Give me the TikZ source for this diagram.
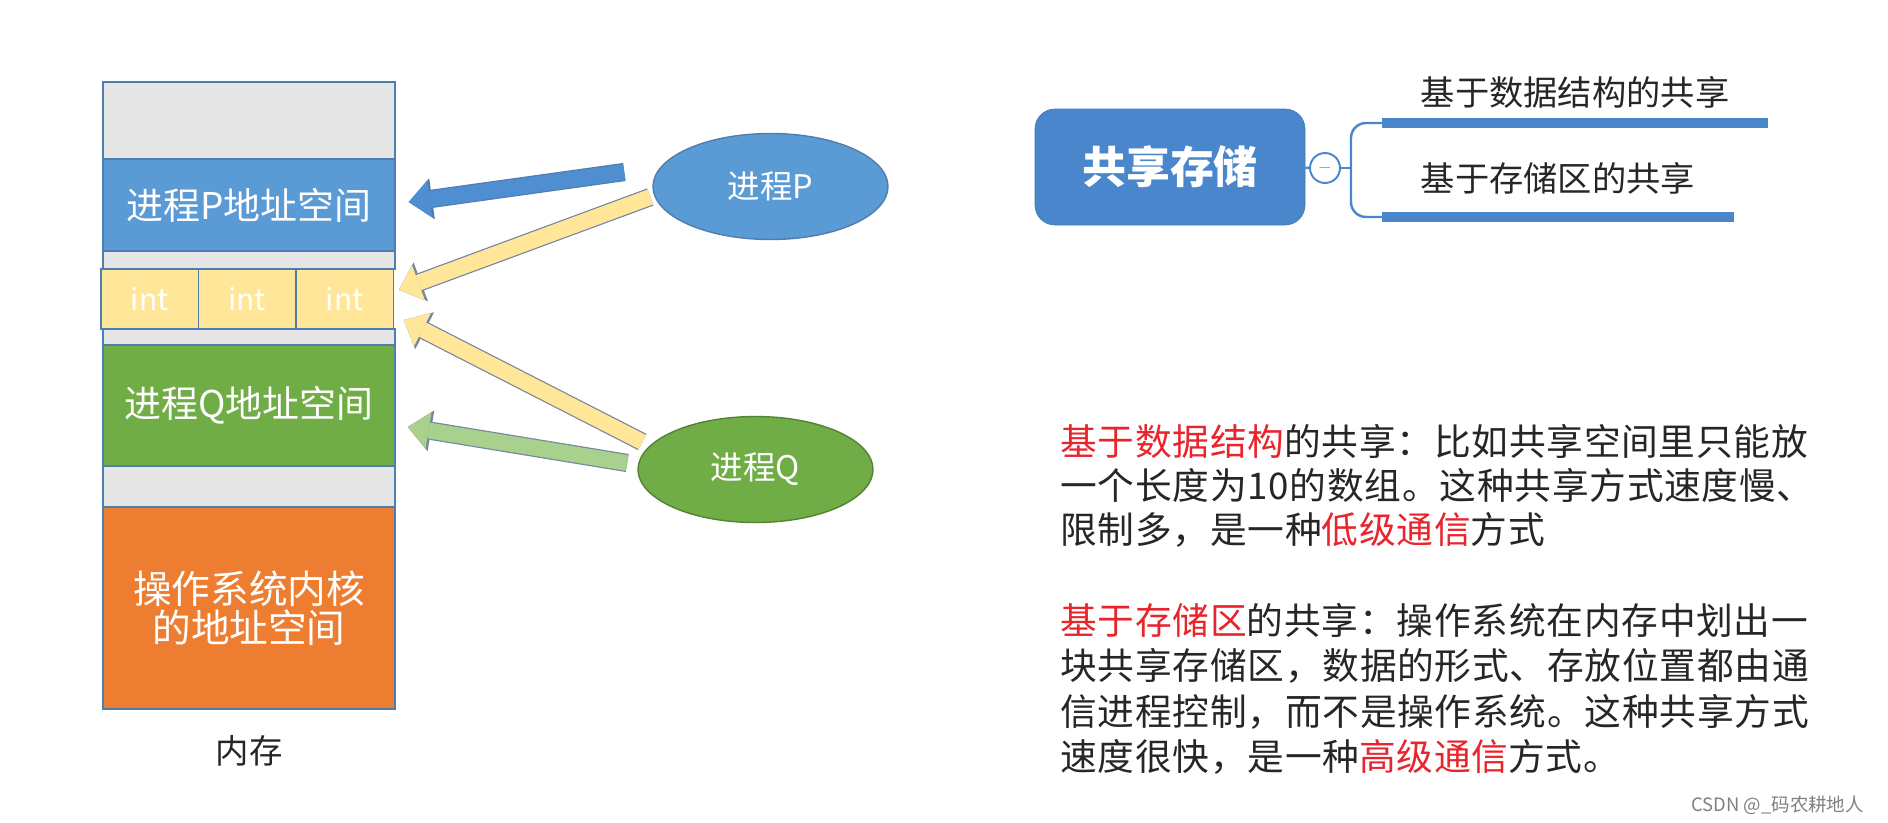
\documentclass[tikz,border=0pt]{standalone}
\usepackage{fontspec}
\setmainfont{Noto Sans CJK SC}
\newfontfamily\notefont{Noto Sans CJK SC}[LetterSpace=2]
\usepackage{tikz}
\usetikzlibrary{shapes.geometric,arrows.meta,positioning,calc}
\definecolor{memgrey}{HTML}{E7E6E6}
\definecolor{memline}{HTML}{4F7DAE}
\definecolor{procblue}{HTML}{5B9BD5}
\definecolor{arrowblue}{HTML}{4F8ED0}
\definecolor{procgreen}{HTML}{70AD47}
\definecolor{kernorange}{HTML}{ED7D31}
\definecolor{shareyellow}{HTML}{FFE699}
\definecolor{arrowline}{HTML}{7587A0}
\definecolor{lightgreen}{HTML}{A9D18E}
\definecolor{mindblue}{HTML}{4A86CC}
\definecolor{hotred}{HTML}{E8242C}
\definecolor{inkgrey}{HTML}{262626}

\begin{document}
\begin{tikzpicture}[
  cell/.style={draw=memline,line width=0.8pt,minimum width=5.84cm,inner sep=0pt,text=white,font=\fontsize{21}{24}\selectfont},
  gap/.style={cell,fill=memgrey},
  intcell/.style={cell,fill=shareyellow,minimum width=1.95cm,minimum height=1.2cm,font=\fontsize{17}{20}\selectfont},
  proc/.style={ellipse,draw,line width=0.8pt,minimum width=4.7cm,minimum height=2.12cm,text=white,font=\fontsize{18.5}{22}\selectfont},
  flow/.style 2 args={draw=#1,line width=9pt,-{Triangle[length=12pt,width=21pt,line width=0pt]},
    preaction={draw=#2,line width=10.4pt,-{Triangle[length=13.4pt,width=23.6pt,line width=0pt]}}},
  root/.style={rounded corners=0.4cm,fill=mindblue,draw=mindblue!90!black,minimum width=5.4cm,minimum height=2.32cm,text=white,font=\fontsize{25}{28}\selectfont\bfseries},
  fold/.style={circle,draw=mindblue,fill=white,line width=1.1pt,minimum size=0.6cm,inner sep=0pt,text=gray},
  topic/.style={anchor=west,inner xsep=0.77cm,inner ysep=0pt,text=inkgrey,font=\fontsize{19.5}{22}\selectfont},
  link/.style={draw=mindblue,line width=1.4pt},
  bar/.style={draw=mindblue,line width=5.7pt},
  para/.style={anchor=west,align=left,inner sep=0pt,text=inkgrey}]

  \useasboundingbox (0,0) rectangle (37.76,-16.44);

  % memory column
  \node[gap,minimum height=1.54cm] (free1) at (4.98,-2.41) {};
  \node[cell,fill=procblue,minimum height=1.84cm] (pspace) at (4.98,-4.10) {进程P地址空间};
  \node[gap,minimum height=0.36cm] (free2) at (4.98,-5.20) {};
  \node[intcell] (int1) at (2.995,-5.98) {int};
  \node[intcell] (int2) at (4.945,-5.98) {int};
  \node[intcell] (int3) at (6.895,-5.98) {int};
  \node[gap,minimum height=0.32cm] (free3) at (4.98,-6.74) {};
  \node[cell,fill=procgreen,minimum height=2.42cm] (qspace) at (4.98,-8.11) {进程Q地址空间};
  \node[gap,minimum height=0.82cm] (free4) at (4.98,-9.73) {};
  \node[cell,fill=kernorange,minimum height=4.04cm,align=center,font=\fontsize{22}{22}\selectfont] (kern) at (4.98,-12.16) {操作系统内核\\的地址空间};
  \node[below=0.4cm of kern,text=inkgrey,font=\fontsize{19}{22}\selectfont] (memlabel) {内存};

  % processes
  \node[proc,fill=procblue,draw=memline] (P) at (15.41,-3.73) {进程P};
  \node[proc,fill=procgreen,draw=procgreen!75!black] (Q) at (15.11,-9.39) {进程Q};

  \draw[flow={arrowblue}{memline}] ($(P.west)+(-0.56,0.29)$) -- ($(pspace.east)+(0.26,0.06)$);
  \draw[flow={shareyellow}{arrowline}] ($(P.west)+(-0.04,-0.21)$) -- ($(int3.east)+(0.09,0.18)$);
  \draw[flow={shareyellow}{arrowline}] ($(Q.west)+(0.10,0.55)$) -- ($(int3.east)+(0.19,-0.42)$);
  \draw[flow={lightgreen}{arrowline}] ($(Q.west)+(-0.20,0.13)$) -- ($(qspace.east)+(0.24,-0.43)$);

  % mind map
  \node[root] (root) at (23.40,-3.34) {共享存储};
  \node[fold] (minus) at (26.50,-3.36) {$-$};
  \node[topic] (t1) at (27.64,-1.84) {基于数据结构的共享};
  \node[topic] (t2) at (27.64,-3.56) {基于存储区的共享};
  \draw[bar] ([yshift=-0.62cm]t1.west) -- ([yshift=-0.62cm]t1.east);
  \draw[bar] ([yshift=-0.78cm]t2.west) -- ([yshift=-0.78cm]t2.east);
  \draw[link] (root) -- (minus);
  \draw[link,rounded corners=0.3cm] ([yshift=-0.62cm]t1.west) -| ([xshift=0.2cm]minus.east) |- ([yshift=-0.78cm]t2.west);
  \draw[link] (minus.east) -- ++(0.2,0);

  % notes
  \node[para,font=\notefont\fontsize{20.9}{25}\selectfont] (note1) at (21.20,-9.72) {\textcolor{hotred}{基于数据结构}的共享：比如共享空间里只能放\\一个长度为10的数组。这种共享方式速度慢、\\限制多，是一种\textcolor{hotred}{低级通信}方式};
  \node[para,font=\notefont\fontsize{20.9}{25.8}\selectfont] (note2) at (21.20,-13.78) {\textcolor{hotred}{基于存储区}的共享：操作系统在内存中划出一\\块共享存储区，数据的形式、存放位置都由通\\信进程控制，而不是操作系统。这种共享方式\\速度很快，是一种\textcolor{hotred}{高级通信}方式。};

  \node[anchor=east,text=gray,font=\fontsize{10.5}{13}\selectfont] (csdn) at (37.4,-16.1) {CSDN @\_码农耕地人};
\end{tikzpicture}
\end{document}
